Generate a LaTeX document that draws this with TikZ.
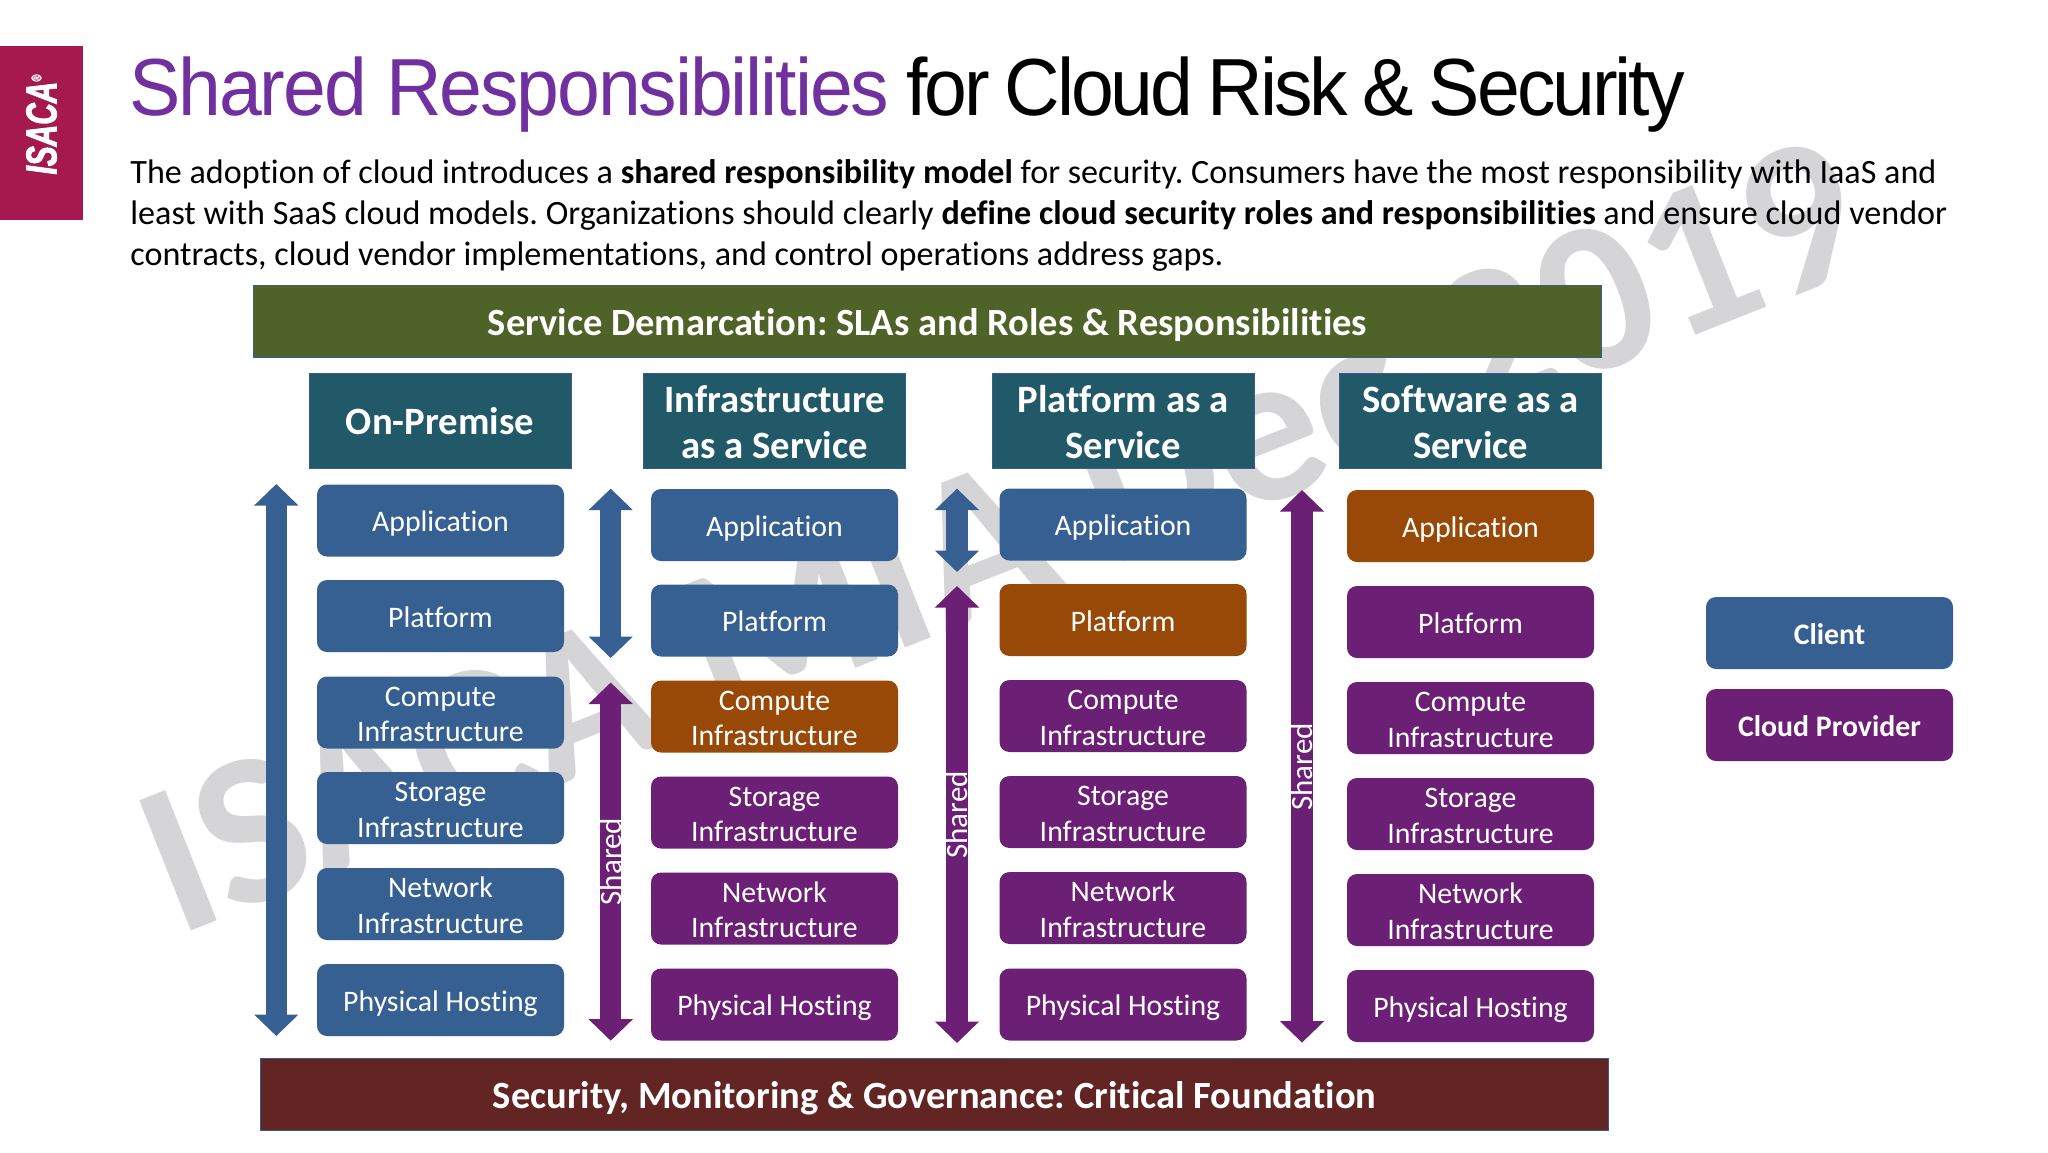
\documentclass[tikz,border=0pt]{standalone}
\usepackage{fontspec}
\setmainfont[Ligatures=NoCommon]{Carlito}
\newfontfamily\titlefont[FakeStretch=0.95,LetterSpace=-2.6]{Liberation Sans}
\newfontfamily\titlerestfont[FakeStretch=0.95,LetterSpace=-3.8,WordSpace=0.8]{Liberation Sans}
\newfontfamily\logofont[FakeStretch=0.69,FakeBold=2]{Liberation Sans}
\usetikzlibrary{arrows.meta}
\definecolor{clientblue}{HTML}{376092}
\definecolor{cloudpurple}{HTML}{6B1F75}
\definecolor{shareorange}{HTML}{984807}
\definecolor{headteal}{HTML}{215968}
\definecolor{barolive}{HTML}{4F6228}
\definecolor{barmaroon}{HTML}{632523}
\definecolor{barline}{HTML}{385D8A}
\definecolor{logored}{HTML}{A6194F}
\definecolor{titlepurple}{HTML}{7030A0}
\definecolor{markgrey}{HTML}{D5D5D7}
\tikzset{
	layerbox/.style={minimum width=123.5pt, minimum height=36pt, inner sep=0pt, rounded corners=5pt, align=center, text=white, text height=15.5pt, text depth=4.5pt, font=\fontsize{14.9}{17.8}\selectfont},
	twolayer/.style={text height=32.5pt, text depth=3.4pt},
	bluebox/.style={layerbox, fill=clientblue},
	purplebox/.style={layerbox, fill=cloudpurple},
	orangebox/.style={layerbox, fill=shareorange},
	headbox/.style={minimum width=131pt, minimum height=47.5pt, inner sep=0pt, align=center, text=white, fill=headteal, draw=barline, line width=0.5pt, text height=17.3pt, text depth=3.5pt, font=\fontsize{19.35}{23.3}\selectfont\bfseries},
	twohead/.style={text height=41.3pt, text depth=3.6pt},
	barbox/.style={minimum width=674pt, minimum height=36pt, inner sep=0pt, text height=17pt, text depth=2.4pt, text=white, draw=barline, line width=0.5pt, font=\fontsize{19.25}{22}\selectfont\bfseries\frenchspacing},
	bodytext/.style={anchor=base west, inner sep=0pt, font=\fontsize{17.05}{20.4}\selectfont\frenchspacing},
	blockarrow/.style={line width=10.75pt, >={Triangle[width=21.5pt,length=10.75pt]}, <->},
	sharedtext/.style={rotate=90, inner sep=0pt, text=white, font=\fontsize{15.5}{18}\selectfont}
}

\begin{document}
\begin{tikzpicture}[x=0.5pt, y=-0.5pt]
	%%%%% START %%%%%
	
	\useasboundingbox (0, 0) rectangle (2048, 1152);
	
	\node[rotate=21.6, text=markgrey, inner sep=0pt, font=\fontsize{108}{108}\selectfont\bfseries] (watermark) at (1001, 535) {ISACA MIA Dec 2019};
	
	\fill[logored] (0, 46) rectangle (83, 220);
	\node[rotate=90, text=white, inner sep=0pt, font=\logofont\fontsize{21.6}{21.6}\selectfont\bfseries\itshape] (logo) at (41.5, 124) {ISACA\textsuperscript{\fontsize{7}{7}\selectfont\textregistered}};
	
	\node[anchor=base west, inner sep=0pt, text=titlepurple, font=\titlefont\fontsize{40.5}{40.5}\selectfont] (titleA) at (129, 115) {Shared Responsibilities};
	\node[anchor=base west, inner sep=0pt, font=\titlerestfont\fontsize{40.5}{40.5}\selectfont] (titleB) at (906, 115) {for Cloud Risk \& Security};
	
	\node[bodytext] (bodyA) at (130, 183.5) {The adoption of cloud introduces a \textbf{shared responsibility model} for security. Consumers have the most responsibility with IaaS and};
	\node[bodytext] (bodyB) at (130, 224) {least with SaaS cloud models. Organizations should clearly \textbf{define cloud security roles and responsibilities} and ensure cloud vendor};
	\node[bodytext] (bodyC) at (130, 265) {contracts, cloud vendor implementations, and control operations address gaps.};
	
	\node[barbox, fill=barolive] (demarc) at (927.5, 321) {Service Demarcation: SLAs and Roles \& Responsibilities};
	\node[barbox, fill=barmaroon] (governance) at (934.5, 1094) {Security, Monitoring \& Governance: Critical Foundation};
	
	\node[headbox] (premHead) at (440, 421) {On-Premise};
	\node[headbox, twohead] (iaasHead) at (774.7, 421) {Infrastructure\\as a Service};
	\node[headbox, twohead] (paasHead) at (1123, 421) {Platform as a\\Service};
	\node[headbox, twohead] (saasHead) at (1470.7, 421) {Software as a\\Service};
	
	\node[bluebox] (premApp) at (440.5, 520.5) {Application};
	\node[bluebox] (premPlat) at (440.5, 616) {Platform};
	\node[bluebox, twolayer] (premComp) at (440.5, 712.5) {Compute\\Infrastructure};
	\node[bluebox, twolayer] (premStor) at (440.5, 808) {Storage\\Infrastructure};
	\node[bluebox, twolayer] (premNet) at (440.5, 904) {Network\\Infrastructure};
	\node[bluebox] (premPhys) at (440.5, 1000) {Physical Hosting};
	
	\node[bluebox] (iaasApp) at (774.5, 525) {Application};
	\node[bluebox] (iaasPlat) at (774.5, 620.5) {Platform};
	\node[orangebox, twolayer] (iaasComp) at (774.5, 716.5) {Compute\\Infrastructure};
	\node[purplebox, twolayer] (iaasStor) at (774.5, 812.5) {Storage\\Infrastructure};
	\node[purplebox, twolayer] (iaasNet) at (774.5, 908.5) {Network\\Infrastructure};
	\node[purplebox] (iaasPhys) at (774.5, 1004.5) {Physical Hosting};
	
	\node[bluebox] (paasApp) at (1123, 524.5) {Application};
	\node[orangebox] (paasPlat) at (1123, 620) {Platform};
	\node[purplebox, twolayer] (paasComp) at (1123, 716) {Compute\\Infrastructure};
	\node[purplebox, twolayer] (paasStor) at (1123, 812) {Storage\\Infrastructure};
	\node[purplebox, twolayer] (paasNet) at (1123, 908) {Network\\Infrastructure};
	\node[purplebox] (paasPhys) at (1123, 1004.5) {Physical Hosting};
	
	\node[orangebox] (saasApp) at (1470.5, 526) {Application};
	\node[purplebox] (saasPlat) at (1470.5, 622) {Platform};
	\node[purplebox, twolayer] (saasComp) at (1470.5, 718) {Compute\\Infrastructure};
	\node[purplebox, twolayer] (saasStor) at (1470.5, 814) {Storage\\Infrastructure};
	\node[purplebox, twolayer] (saasNet) at (1470.5, 910) {Network\\Infrastructure};
	\node[purplebox] (saasPhys) at (1470.5, 1006) {Physical Hosting};
	
	\node[bluebox, font=\fontsize{14.9}{17.8}\selectfont\bfseries] (client) at (1829.5, 633) {Client};
	\node[purplebox, font=\fontsize{14.9}{17.8}\selectfont\bfseries] (provider) at (1829.5, 725) {Cloud Provider};
	
	\coordinate (premTop) at (276.3, 484);
	\coordinate (premEnd) at (276.3, 1036);
	\draw[blockarrow, color=clientblue] (premTop) -- (premEnd);
	
	\coordinate (iaasTop) at (610.7, 488.6);
	\coordinate (iaasMid) at (610.7, 658);
	\draw[blockarrow, color=clientblue] (iaasTop) -- (iaasMid);
	\coordinate (iaasLow) at (610.7, 682.5);
	\coordinate (iaasEnd) at (610.7, 1040.7);
	\draw[blockarrow, color=cloudpurple] (iaasLow) -- (iaasEnd);
	\node[sharedtext] (iaasShared) at (610.7, 861.5) {Shared};
	
	\coordinate (paasTop) at (957, 488.6);
	\coordinate (paasMid) at (957, 572);
	\draw[blockarrow, color=clientblue] (paasTop) -- (paasMid);
	\coordinate (paasLow) at (957, 586);
	\coordinate (paasEnd) at (957, 1043);
	\draw[blockarrow, color=cloudpurple] (paasLow) -- (paasEnd);
	\node[sharedtext] (paasShared) at (957, 815) {Shared};
	
	\coordinate (saasTop) at (1302, 490);
	\coordinate (saasEnd) at (1302, 1042.6);
	\draw[blockarrow, color=cloudpurple] (saasTop) -- (saasEnd);
	\node[sharedtext] (saasShared) at (1302, 767) {Shared};
	
	%%%%% END %%%%%
\end{tikzpicture}
\end{document}
